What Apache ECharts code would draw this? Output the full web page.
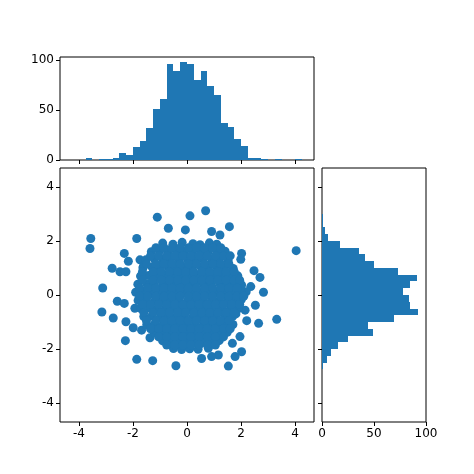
<!DOCTYPE html>
<html><head><meta charset="utf-8">
<script src="https://cdn.jsdelivr.net/npm/echarts@6/dist/echarts.min.js"></script>
<style>html,body{margin:0;padding:0;background:#fff}#c{width:474px;height:474px}</style>
</head><body><div id="c"></div>
<script>
// histogram bins: start -4.25, width 0.25
const binStart = -4.25, binWidth = 0.25;
const topCounts = [0,0,2,0,1,1,2,7,5,13,19,32,51,61,96,89,98,96,80,89,74,65,37,33,21,14,2,2,1,0,1,0,0,1];
const rightCounts = [0,0,0,0,0,0,1,5,9,15,25,49,44,69,92,85,84,78,85,91,73,50,41,36,17,6,3,1,1];
const outliers = [
[-1.10,2.88],[0.11,2.93],[-3.56,2.09],[-3.59,1.72],[-1.86,2.09],[-0.69,2.47],[-0.06,2.41],[-2.32,1.54],[-2.17,1.25],
[-2.77,0.99],[-2.48,0.86],[-2.26,0.86],[-3.12,0.26],[-2.58,-0.23],[-2.32,-0.31],[-3.15,-0.63],[-2.73,-0.85],[-2.26,-0.99],
[-1.99,-1.21],[-1.68,-1.30],[-2.28,-1.69],[-1.37,-1.58],[-1.86,-2.38],[-1.27,-2.43],[-0.41,-2.62],[-1.74,1.30],[-1.62,1.05],[-1.93,-0.49],
[0.69,3.12],[1.57,2.53],[0.91,2.35],[1.22,2.22],[4.04,1.64],[2.02,1.54],[1.99,1.32],[2.48,0.90],[2.70,0.65],[2.36,0.31],
[2.83,0.10],[2.19,0.12],[2.53,-0.38],[2.15,-0.56],[3.32,-0.90],[2.65,-1.05],[2.21,-0.95],[1.96,-1.54],[1.68,-1.79],[2.02,-2.10],
[1.78,-2.28],[1.53,-2.63],[1.16,-2.22],[0.54,-2.35],[0.91,-2.28]
];
const core = [
[-0.9,1.92],[-0.52,1.88],[-0.18,1.95],[0.22,1.9],[0.48,1.86],[0.83,1.93],[1.1,1.88],
[-1.32,1.6],[-1.02,1.63],[-0.71,1.58],[-0.38,1.62],[-0.1,1.57],[0.21,1.63],[0.52,1.59],[0.79,1.61],[1.12,1.58],[1.41,1.62],
[-1.52,1.3],[-1.21,1.33],[-0.88,1.28],[-0.61,1.31],[-0.29,1.27],[0.02,1.32],[0.31,1.29],[0.6,1.33],[0.92,1.27],[1.19,1.31],[1.52,1.28],
[-1.63,1.0],[-1.29,1.03],[-1.02,0.98],[-0.69,1.02],[-0.41,0.97],[-0.1,1.01],[0.19,0.99],[0.52,1.03],[0.79,0.97],[1.12,1.0],[1.39,1.02],[1.71,0.98],
[-1.72,0.7],[-1.41,0.72],[-1.09,0.68],[-0.81,0.71],[-0.49,0.69],[-0.21,0.73],[0.12,0.68],[0.39,0.71],[0.72,0.7],[0.99,0.67],[1.31,0.72],[1.6,0.69],[1.88,0.71],
[-1.82,0.4],[-1.49,0.42],[-1.21,0.38],[-0.9,0.41],[-0.59,0.39],[-0.31,0.42],[0.01,0.38],[0.29,0.41],[0.61,0.4],[0.9,0.38],[1.21,0.42],[1.49,0.39],[1.79,0.41],[2.02,0.37],
[-1.9,0.1],[-1.61,0.12],[-1.3,0.08],[-0.99,0.11],[-0.7,0.09],[-0.39,0.12],[-0.1,0.08],[0.21,0.11],[0.49,0.09],[0.81,0.12],[1.1,0.08],[1.41,0.11],[1.69,0.09],[1.99,0.1],
[-1.81,-0.2],[-1.52,-0.18],[-1.19,-0.22],[-0.91,-0.19],[-0.6,-0.21],[-0.29,-0.18],[0.02,-0.22],[0.31,-0.19],[0.59,-0.2],[0.91,-0.18],[1.2,-0.22],[1.51,-0.19],[1.79,-0.21],[2.01,-0.17],
[-1.71,-0.5],[-1.39,-0.48],[-1.1,-0.52],[-0.79,-0.49],[-0.51,-0.51],[-0.19,-0.48],[0.1,-0.52],[0.41,-0.49],[0.69,-0.5],[1.01,-0.48],[1.29,-0.52],[1.61,-0.49],[1.89,-0.51],
[-1.6,-0.8],[-1.31,-0.78],[-0.99,-0.82],[-0.7,-0.79],[-0.41,-0.81],[-0.1,-0.78],[0.21,-0.82],[0.49,-0.79],[0.8,-0.8],[1.09,-0.78],[1.4,-0.82],[1.69,-0.79],[1.81,-0.7],
[-1.49,-1.1],[-1.2,-1.08],[-0.89,-1.12],[-0.6,-1.09],[-0.31,-1.11],[0.0,-1.08],[0.3,-1.12],[0.61,-1.09],[0.89,-1.1],[1.2,-1.08],[1.49,-1.12],[1.7,-1.09],
[-1.21,-1.4],[-0.92,-1.38],[-0.6,-1.42],[-0.31,-1.39],[0.01,-1.41],[0.29,-1.38],[0.6,-1.42],[0.91,-1.39],[1.2,-1.4],[1.49,-1.38],
[-0.9,-1.7],[-0.61,-1.68],[-0.3,-1.72],[0.02,-1.69],[0.31,-1.71],[0.62,-1.68],[0.9,-1.72],[1.19,-1.69],
[-0.5,-1.98],[-0.2,-2.02],[0.1,-1.99],[0.41,-2.01],[0.79,-1.97]
];
// second, interleaved layer of the dense centre: [y, [x values]]
const coreRows = [
[1.75,[-1.15,-0.85,-0.55,-0.25,0.05,0.35,0.65,0.95,1.25]],
[1.45,[-1.35,-1.05,-0.75,-0.45,-0.15,0.15,0.45,0.75,1.05,1.35,1.6]],
[1.15,[-1.5,-1.15,-0.85,-0.55,-0.25,0.05,0.35,0.65,0.95,1.25,1.55]],
[0.85,[-1.65,-1.25,-0.95,-0.65,-0.35,-0.05,0.25,0.55,0.85,1.15,1.45,1.75]],
[0.55,[-1.65,-1.25,-0.95,-0.65,-0.35,-0.05,0.25,0.55,0.85,1.15,1.45,1.75,1.95]],
[0.25,[-1.75,-1.45,-1.15,-0.85,-0.55,-0.25,0.05,0.35,0.65,0.95,1.25,1.55,1.85]],
[-0.05,[-1.75,-1.45,-1.15,-0.85,-0.55,-0.25,0.05,0.35,0.65,0.95,1.25,1.55,1.85,2.1]],
[-0.35,[-1.65,-1.35,-1.05,-0.75,-0.45,-0.15,0.15,0.45,0.75,1.05,1.35,1.65,1.95]],
[-0.65,[-1.6,-1.25,-0.95,-0.65,-0.35,-0.05,0.25,0.55,0.85,1.15,1.45,1.75]],
[-0.95,[-1.5,-1.15,-0.85,-0.55,-0.25,0.05,0.35,0.65,0.95,1.25,1.55]],
[-1.25,[-1.35,-1.05,-0.75,-0.45,-0.15,0.15,0.45,0.75,1.05,1.35,1.6]],
[-1.55,[-1.05,-0.75,-0.45,-0.15,0.15,0.45,0.75,1.05,1.35]],
[-1.85,[-0.75,-0.45,-0.15,0.15,0.45,0.75,1.05]]
];
const points = outliers.concat(core);
coreRows.forEach(r => r[1].forEach(x => points.push([x, r[0]])));
const blue = '#1f77b4';
const font = {color:'#000', fontSize:12, fontFamily:'DejaVu Sans'};
const tickVals = [-4,-2,0,2,4];
function histItem(horizontal){
  return function(params, api){
    const i = api.value(0), c = api.value(1);
    if(!c) return null;
    const a = binStart + i*binWidth, b = a + binWidth;
    let p0, p1;
    if(!horizontal){ p0 = api.coord([a, c]); p1 = api.coord([b, 0]); }
    else { p0 = api.coord([0, b]); p1 = api.coord([c, a]); }
    const x0 = Math.round(Math.min(p0[0],p1[0])), x1 = Math.round(Math.max(p0[0],p1[0]));
    const y0 = Math.round(Math.min(p0[1],p1[1])), y1 = Math.round(Math.max(p0[1],p1[1]));
    return {type:'rect', shape:{x:x0, y:y0, width:x1-x0, height:y1-y0}, style:{fill:blue, lineWidth:0}};
  };
}
function tk(vals){ return {show:true, length:4, lineStyle:{color:'#000'}, customValues:vals}; }
const noLine = {show:false, onZero:false};
const chart = echarts.init(document.getElementById('c'), null, {renderer:'canvas'});
chart.setOption({
  animation:false,
  grid:[
    {left:60, top:168, width:254, height:254, show:true, borderColor:'#000', borderWidth:1, z:5},
    {left:60, top:57, width:254, height:103, show:true, borderColor:'#000', borderWidth:1},
    {left:322, top:168, width:104, height:254, show:true, borderColor:'#000', borderWidth:1}
  ],
  xAxis:[
    {gridIndex:0, type:'value', min:-4.7, max:4.7, axisLine:noLine, splitLine:{show:false}, axisTick:tk(tickVals), axisLabel:Object.assign({customValues:tickVals, margin:6}, font)},
    {gridIndex:1, type:'value', min:-4.7, max:4.7, axisLine:noLine, splitLine:{show:false}, axisTick:tk(tickVals), axisLabel:{show:false}},
    {gridIndex:2, type:'value', min:0, max:100, interval:50, axisLine:noLine, splitLine:{show:false}, axisTick:{show:true,length:4,lineStyle:{color:'#000'}}, axisLabel:Object.assign({margin:6}, font)}
  ],
  yAxis:[
    {gridIndex:0, type:'value', min:-4.7, max:4.7, axisLine:noLine, splitLine:{show:false}, axisTick:tk(tickVals), axisLabel:Object.assign({customValues:tickVals, margin:6}, font)},
    {gridIndex:1, type:'value', min:0, max:103, axisLine:noLine, splitLine:{show:false}, axisTick:tk([0,50,100]), axisLabel:Object.assign({customValues:[0,50,100], margin:6}, font)},
    {gridIndex:2, type:'value', min:-4.7, max:4.7, axisLine:noLine, splitLine:{show:false}, axisTick:tk(tickVals), axisLabel:{show:false}}
  ],
  series:[
    {type:'scatter', xAxisIndex:0, yAxisIndex:0, data:points, symbolSize:9, itemStyle:{color:blue, opacity:1, borderWidth:0}},
    {type:'custom', xAxisIndex:1, yAxisIndex:1, renderItem:histItem(false), data:topCounts.map((c,i)=>[i,c]), clip:true},
    {type:'custom', xAxisIndex:2, yAxisIndex:2, renderItem:histItem(true), data:rightCounts.map((c,i)=>[i,c]), clip:true}
  ]
});
</script></body></html>
